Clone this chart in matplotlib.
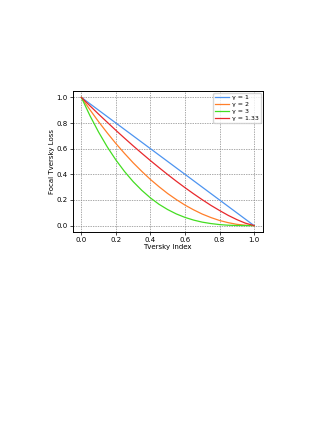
import matplotlib
matplotlib.use("Agg")
import matplotlib.pyplot as plt

# Tversky index samples and loss values
ti = [0.0, 0.05, 0.1, 0.15, 0.2, 0.25, 0.3, 0.35, 0.4, 0.45, 0.5,
      0.55, 0.6, 0.65, 0.7, 0.75, 0.8, 0.85, 0.9, 0.95, 1.0]

loss_g1 = [1.0, 0.95, 0.9, 0.85, 0.8, 0.75, 0.7, 0.65, 0.6, 0.55, 0.5,
           0.45, 0.4, 0.35, 0.3, 0.25, 0.2, 0.15, 0.1, 0.05, 0.0]
loss_g2 = [1.0, 0.903, 0.81, 0.723, 0.64, 0.563, 0.49, 0.423, 0.36, 0.303, 0.25,
           0.203, 0.16, 0.123, 0.09, 0.063, 0.04, 0.023, 0.01, 0.003, 0.0]
loss_g3 = [1.0, 0.857, 0.729, 0.614, 0.512, 0.422, 0.343, 0.275, 0.216, 0.166, 0.125,
           0.091, 0.064, 0.043, 0.027, 0.016, 0.008, 0.003, 0.001, 0.0001, 0.0]
loss_g133 = [1.0, 0.934, 0.869, 0.806, 0.743, 0.682, 0.622, 0.564, 0.507, 0.452, 0.398,
             0.346, 0.296, 0.248, 0.202, 0.158, 0.118, 0.080, 0.047, 0.019, 0.0]

series = [
    (loss_g1, "γ = 1", "#4d94f0"),
    (loss_g2, "γ = 2", "#ff7f2a"),
    (loss_g3, "γ = 3", "#44dd22"),
    (loss_g133, "γ = 1.33", "#e8282c"),
]

fig = plt.figure(figsize=(3.27, 4.23), dpi=100)
ax = fig.add_axes([0.2223, 0.4515, 0.5810, 0.3335])

for ys, lab, col in series:
    ax.plot(ti, ys, color=col, linewidth=0.9, label=lab)

ax.grid(True, color="#888888", linestyle="--", linewidth=0.5, dashes=(2, 1.5))
ax.set_xticks([0.0, 0.2, 0.4, 0.6, 0.8, 1.0])
ax.set_yticks([0.0, 0.2, 0.4, 0.6, 0.8, 1.0])
ax.tick_params(labelsize=5, length=2, width=0.5, pad=1.5)
for s in ax.spines.values():
    s.set_linewidth(0.7)
ax.set_xlabel("Tversky Index", fontsize=5, labelpad=1)
ax.set_ylabel("Focal Tversky Loss", fontsize=5, labelpad=1)
ax.legend(loc="upper right", fontsize=4.5, frameon=True, handlelength=2.2,
          borderpad=0.3, labelspacing=0.25, handletextpad=0.5,
          borderaxespad=0.3, framealpha=0.8)

fig.savefig("out.png", dpi=100)
